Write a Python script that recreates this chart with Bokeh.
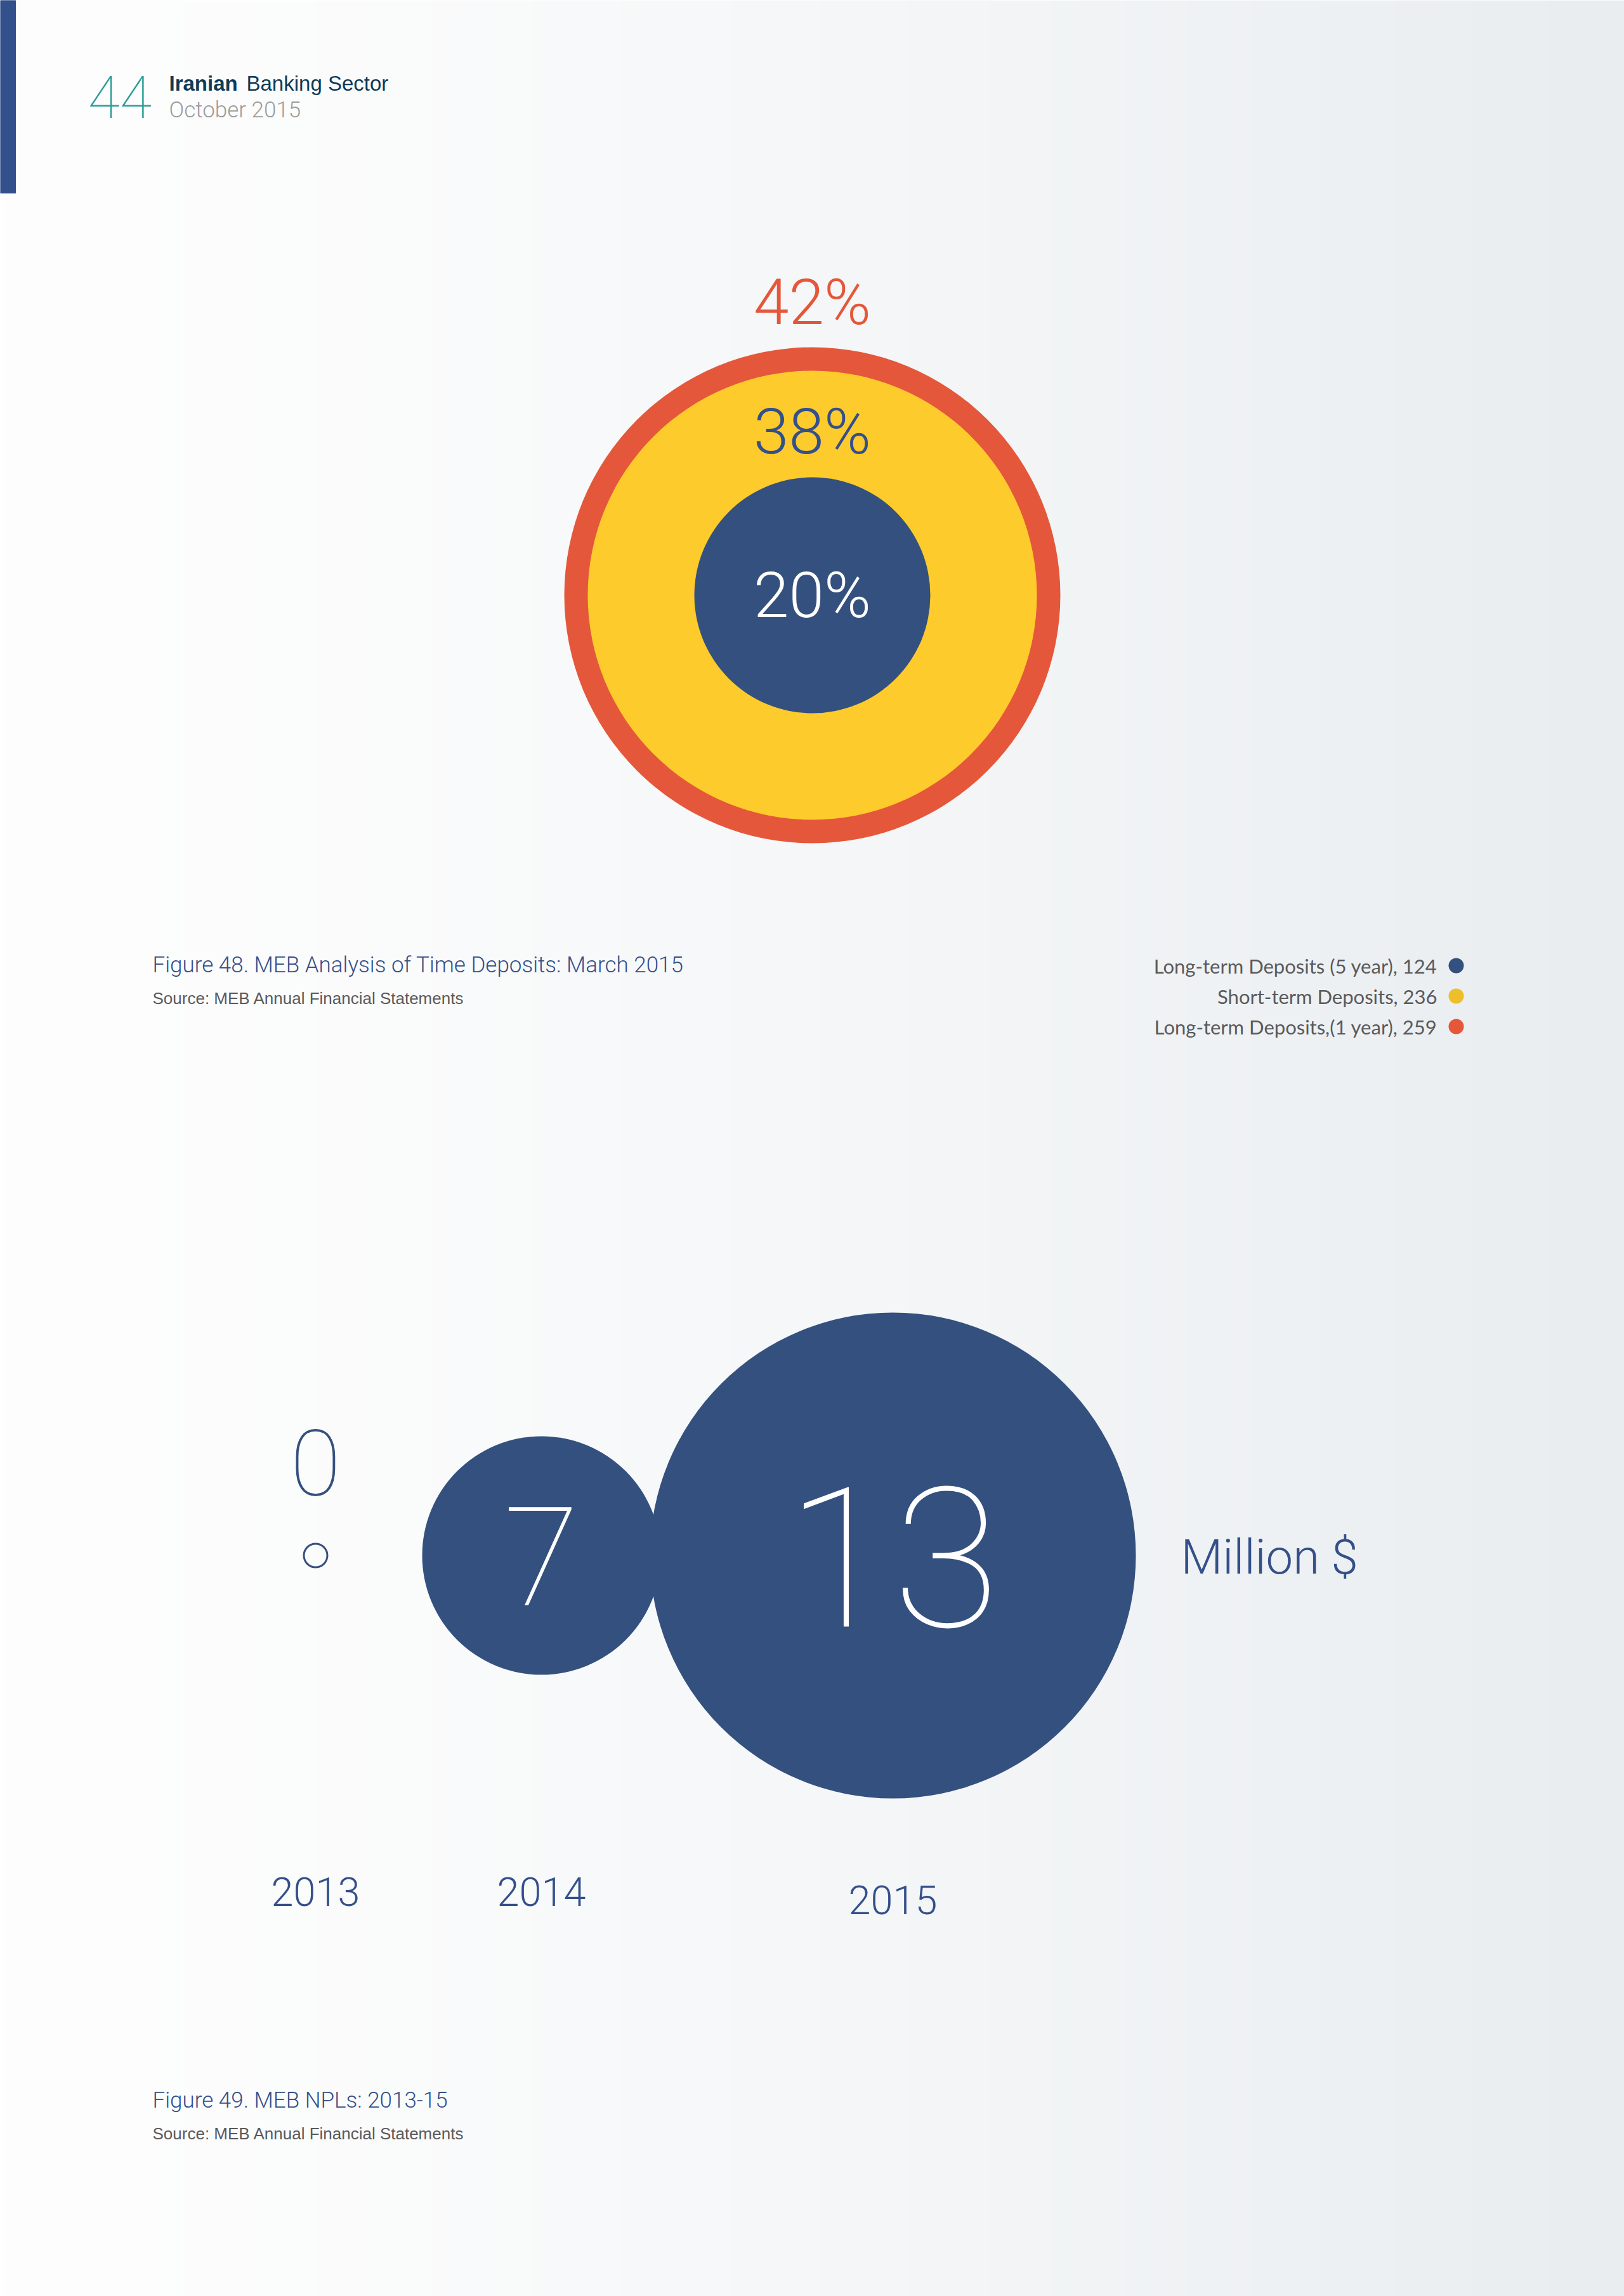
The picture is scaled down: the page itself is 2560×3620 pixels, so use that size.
import numpy as np
from bokeh.plotting import figure
from bokeh.models import Range1d
from bokeh.core.properties import value
from bokeh.embed import file_html
from bokeh.resources import INLINE

# figure 48 - time deposits (million $)
deposit_labels = ["Long-term Deposits (5 year)", "Short-term Deposits", "Long-term Deposits,(1 year)"]
deposit_values = [124, 236, 259]

# figure 49 - NPLs (million $)
npl_years = ["2013", "2014", "2015"]
npl_values = [0, 7, 13]

# colours
BLUE = "#34507e"
YELLOW = "#fecb2c"
RED = "#e5573a"
TXT_BLUE = "#34508a"
GREY = "#5a5a5c"

LIGHT = value("'Roboto Light', Roboto, sans-serif")
THIN = value("'Roboto Thin', 'Roboto Light', Roboto, sans-serif")
HELV = value("'Liberation Sans', Arial, sans-serif")
LEG = value("Lato, sans-serif")

K = 0.35  # shift so that the given y is the text baseline


def bl(y, size):
    return y - K * size


W, H = 2560, 3620
p = figure(width=W, height=H, output_backend="svg", toolbar_location=None,
           x_range=Range1d(0, W), y_range=Range1d(H, 0),
           min_border=0)
p.axis.visible = False
p.grid.visible = False
p.outline_line_color = None
p.background_fill_color = "#ffffff"
p.border_fill_color = "#ffffff"

# page background: soft horizontal gradient
n = 256
t = np.linspace(0, 1, n) ** 1.3
c0 = np.array([254, 254, 254])
c1 = np.array([233, 237, 240])
cols = (c0[None, :] * (1 - t[:, None]) + c1[None, :] * t[:, None]).astype(np.uint32)
img = np.empty((1, n), dtype=np.uint32)
img[0, :] = (255 << 24) | (cols[:, 2] << 16) | (cols[:, 1] << 8) | cols[:, 0]
p.image_rgba(image=[img], x=0, y=0, dw=W, dh=H)

# header
p.quad(left=[0], right=[24], top=[0], bottom=[304], color="#33508c")
p.text(x=[138], y=[bl(185, 92)], text=["44"], text_font=THIN, text_font_size="92px",
       text_color="#2a9d97", text_baseline="alphabetic")
p.text(x=[266], y=[bl(143, 33)], text=["Iranian"], text_font=HELV, text_font_style="bold",
       text_font_size="33px", text_color="#0f3c57", text_baseline="alphabetic")
p.text(x=[388], y=[bl(143, 33)], text=["Banking Sector"], text_font=HELV,
       text_font_size="33px", text_color="#0f3c57", text_baseline="alphabetic")
p.text(x=[266], y=[bl(185, 35)], text=["October 2015"], text_font=LIGHT,
       text_font_size="35px", text_color="#9b9b9b", text_baseline="alphabetic")

# ---- figure 48: nested circles ----
cx, cy = 1280, 938
ring_r = [186, 354, 391]            # blue, yellow, red
ring_col = [BLUE, YELLOW, RED]
total = sum(deposit_values)
shares = [f"{round(100 * v / total)}%" for v in deposit_values]

for r, c in sorted(zip(ring_r, ring_col), reverse=True):
    p.circle(x=[cx], y=[cy], radius=r, fill_color=c, line_color=None)

share_base = [973, 715, 511]
share_col = ["white", TXT_BLUE, RED]
p.text(x=[cx] * 3, y=[bl(b, 100) for b in share_base], text=shares, text_font=LIGHT,
       text_font_size="100px", text_color=share_col, text_align="center",
       text_baseline="alphabetic")

p.text(x=[240], y=[bl(1533, 35)], text=["Figure 48. MEB Analysis of Time Deposits: March 2015"],
       text_font=LIGHT, text_font_size="35px", text_color=TXT_BLUE,
       text_baseline="alphabetic")
p.text(x=[240], y=[bl(1583, 26)], text=["Source: MEB Annual Financial Statements"],
       text_font=HELV, text_font_size="26px", text_color=GREY,
       text_baseline="alphabetic")

# legend
leg_y = [1522, 1570, 1618]
leg_txt = [f"{l}, {v}" for l, v in zip(deposit_labels, deposit_values)]
p.circle(x=[2295] * 3, y=leg_y, radius=12, fill_color=[BLUE, "#ecbf2b", RED],
         line_color=None)
p.text(x=[2265] * 3, y=[bl(y + 11, 31) for y in leg_y], text=leg_txt, text_font=LEG,
       text_font_size="31px", text_color=GREY, text_align="right",
       text_baseline="alphabetic")

# ---- figure 49: NPL bubbles ----
bx = [497, 853, 1407]
by = 2452
br = [20, 188, 383]
p.circle(x=bx[1:], y=[by] * 2, radius=br[1:], fill_color=BLUE, line_color=None)
p.circle(x=[bx[0]], y=[by], radius=br[0] - 1.5, fill_color=None,
         line_color=BLUE, line_width=3)

p.text(x=[bx[0]], y=[bl(2357, 145)], text=[str(npl_values[0])], text_font=THIN,
       text_font_size="145px", text_color=BLUE, text_align="center",
       text_baseline="alphabetic")
p.text(x=[bx[1]], y=[bl(2529, 217)], text=[str(npl_values[1])], text_font=THIN,
       text_font_size="217px", text_color="white", text_align="center",
       text_baseline="alphabetic")
p.text(x=[bx[2]], y=[bl(2561, 308)], text=[str(npl_values[2])], text_font=THIN,
       text_font_size="308px", text_color="white", text_align="center",
       text_baseline="alphabetic")
p.text(x=[1861], y=[bl(2481, 76)], text=["Million $"], text_font=LIGHT,
       text_font_size="76px", text_color=TXT_BLUE, text_baseline="alphabetic")

p.text(x=bx, y=[bl(3004, 63), bl(3004, 63), bl(3017, 63)], text=npl_years,
       text_font=LIGHT, text_font_size="63px", text_color=TXT_BLUE,
       text_align="center", text_baseline="alphabetic")

p.text(x=[240], y=[bl(3323, 35)], text=["Figure 49. MEB NPLs: 2013-15"],
       text_font=LIGHT, text_font_size="35px", text_color=TXT_BLUE,
       text_baseline="alphabetic")
p.text(x=[240], y=[bl(3373, 26)], text=["Source: MEB Annual Financial Statements"],
       text_font=HELV, text_font_size="26px", text_color=GREY,
       text_baseline="alphabetic")

open("out.html", "w").write(file_html(p, INLINE))
